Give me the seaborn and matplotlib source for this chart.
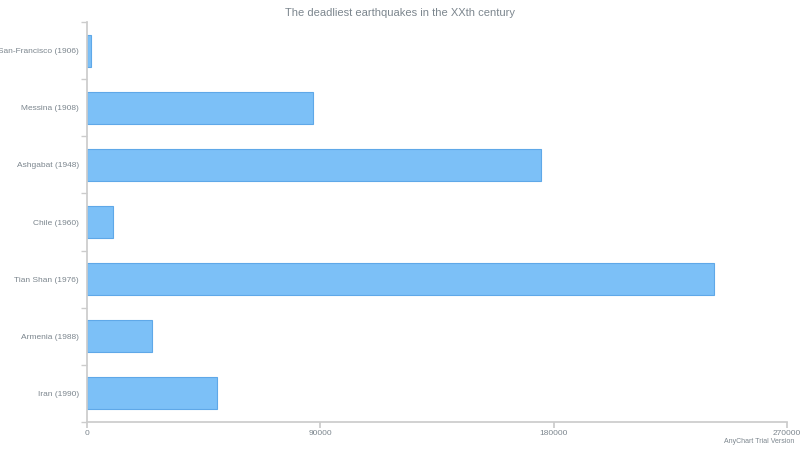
import matplotlib
matplotlib.use("Agg")
import matplotlib.pyplot as plt
import seaborn as sns
import pandas as pd

categories = ["San-Francisco (1906)", "Messina (1908)", "Ashgabat (1948)", "Chile (1960)",
              "Tian Shan (1976)", "Armenia (1988)", "Iran (1990)"]
deaths = [1500, 87000, 175000, 10000, 242000, 25000, 50000]
ticks = [0, 90000, 180000, 270000]

df = pd.DataFrame({"cat": categories, "val": deaths})
sns.set_theme(style="white")
plt.rcParams['font.family'] = ['Liberation Sans', 'DejaVu Sans']
fig = plt.figure(figsize=(8, 4.5), dpi=100)
ax = fig.add_axes([87/800, 28/450, 700/800, 400/450])
sns.barplot(data=df, x="val", y="cat", orient="h", color="#7cc0f7", saturation=1,
            edgecolor="#5fa8e8", linewidth=0.8, width=0.56, ax=ax)
ax.set_xlim(0, 270000)
ax.set_xticks(ticks)
ax.set_xticklabels([str(t) for t in ticks], fontsize=6, color="#7c868e")
ax.tick_params(axis="y", labelsize=6, colors="#7c868e", pad=6)
ax.tick_params(axis="x", length=4, color="#cccccc", bottom=True, pad=2)
ax.set_xlabel(""); ax.set_ylabel("")
for s in ["top", "right"]:
    ax.spines[s].set_visible(False)
for s in ["left", "bottom"]:
    ax.spines[s].set_color("#cccccc")
ax.set_yticks([i - 0.5 for i in range(len(categories) + 1)], minor=True)
ax.tick_params(axis="y", which="minor", length=4, color="#cccccc", left=True)
ax.tick_params(axis="y", which="major", length=0)
fig.text(0.5, 0.972, "The deadliest earthquakes in the XXth century", ha="center", va="center",
         fontsize=8, color="#7c868e")
fig.text(0.993, 0.018, "AnyChart Trial Version", ha="right", va="center", fontsize=5, color="#7c868e")
fig.savefig("out.png")
